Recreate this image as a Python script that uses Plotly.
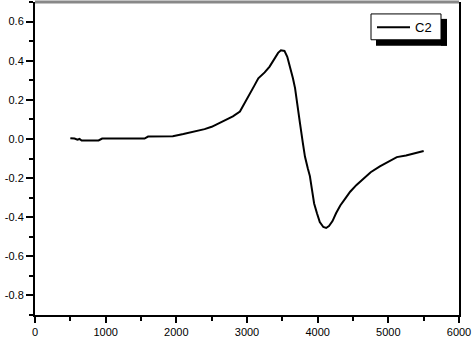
import plotly.graph_objects as go

# Data
x_vals = [500, 560, 600, 630, 660, 700, 900, 950, 1550, 1600, 1950, 2100, 2250, 2400,
          2500, 2600, 2700, 2800, 2900, 2980, 3050, 3100, 3160, 3250, 3320, 3390,
          3440, 3480, 3530, 3570, 3610, 3650, 3680, 3720, 3750, 3790, 3820, 3860,
          3890, 3920, 3950, 3990, 4030, 4080, 4120, 4160, 4210, 4260, 4320, 4400,
          4460, 4550, 4650, 4750, 4880, 5000, 5120, 5250, 5350, 5450, 5500]
c2_vals = [0.004, 0.002, -0.004, 0.0, -0.008, -0.008, -0.008, 0.002, 0.002, 0.012,
           0.014, 0.025, 0.037, 0.05, 0.062, 0.08, 0.095, 0.115, 0.14, 0.19, 0.24,
           0.27, 0.31, 0.34, 0.37, 0.41, 0.44, 0.453, 0.45, 0.42, 0.37, 0.31, 0.26,
           0.17, 0.08, -0.02, -0.09, -0.15, -0.19, -0.26, -0.33, -0.38, -0.425,
           -0.45, -0.455, -0.445, -0.42, -0.38, -0.34, -0.3, -0.27, -0.235, -0.2,
           -0.17, -0.14, -0.115, -0.093, -0.085, -0.075, -0.065, -0.062]
series_name = "C2"

x_ticks = [0, 1000, 2000, 3000, 4000, 5000, 6000]
x_minor = [500, 1500, 2500, 3500, 4500, 5500]
y_ticks = [-0.8, -0.6, -0.4, -0.2, 0.0, 0.2, 0.4, 0.6]
y_ticklabels = ["-0.8", "-0.6", "-0.4", "-0.2", "0.0", "0.2", "0.4", "0.6"]
y_minor = [-0.9, -0.7, -0.5, -0.3, -0.1, 0.1, 0.3, 0.5, 0.7]

fig = go.Figure()
fig.add_trace(go.Scatter(x=x_vals, y=c2_vals, mode="lines", name=series_name,
                         line=dict(color="black", width=2), showlegend=False))

FONT = "Liberation Sans, Arial, sans-serif"
font = dict(family=FONT, size=11, color="black")

L, R, T, B, W, H = 35, 15, 2, 23, 474, 340
PW, PH = W - L - R, H - T - B


def px(x):
    return (x - L) / PW


def py(y):
    return (H - B - y) / PH


fig.update_layout(
    width=W, height=H,
    margin=dict(l=L, r=R, t=T, b=B),
    paper_bgcolor="white", plot_bgcolor="white",
    font=font,
    showlegend=False,
    xaxis=dict(range=[0, 6000], tickvals=x_ticks, showgrid=False, zeroline=False,
               showline=True, linecolor="black", linewidth=2, mirror=False,
               ticks="outside", ticklen=6, tickwidth=2, tickcolor="black",
               minor=dict(tickvals=x_minor, ticks="outside", ticklen=4, tickwidth=2,
                          tickcolor="black", showgrid=False)),
    yaxis=dict(range=[-0.9, 0.7], tickvals=y_ticks, ticktext=y_ticklabels,
               showgrid=False, zeroline=False,
               showline=True, linecolor="black", linewidth=2, mirror=True,
               ticks="outside", ticklen=7, tickwidth=2, tickcolor="black",
               minor=dict(tickvals=y_minor, ticks="outside", ticklen=4, tickwidth=2,
                          tickcolor="black", showgrid=False)),
)

# gray top border
fig.add_shape(type="line", xref="paper", yref="paper", x0=0, x1=1, y0=1, y1=1,
              line=dict(color="#888888", width=3), layer="above")
# legend shadow as two thick strokes (right and bottom)
fig.add_shape(type="line", xref="paper", yref="paper",
              x0=px(444), x1=px(444), y0=py(46), y1=py(19),
              line=dict(color="rgb(0,0,0)", width=6), layer="above")
fig.add_shape(type="line", xref="paper", yref="paper",
              x0=px(376), x1=px(447), y0=py(43), y1=py(43),
              line=dict(color="rgb(0,0,0)", width=6), layer="above")
# legend box
fig.add_shape(type="rect", xref="paper", yref="paper",
              x0=px(371), x1=px(441), y0=py(40), y1=py(14),
              fillcolor="rgb(255,255,255)", line=dict(color="rgb(0,0,0)", width=1),
              layer="above")
# legend sample line
fig.add_shape(type="line", xref="paper", yref="paper",
              x0=px(377), x1=px(410), y0=py(27.5), y1=py(27.5),
              line=dict(color="rgb(0,0,0)", width=2), layer="above")
fig.add_annotation(xref="paper", yref="paper", x=px(413), y=py(27.5),
                   xanchor="left", yanchor="middle", showarrow=False,
                   text=series_name, font=dict(family=FONT, size=13, color="black"))

fig.write_html("out.html")
